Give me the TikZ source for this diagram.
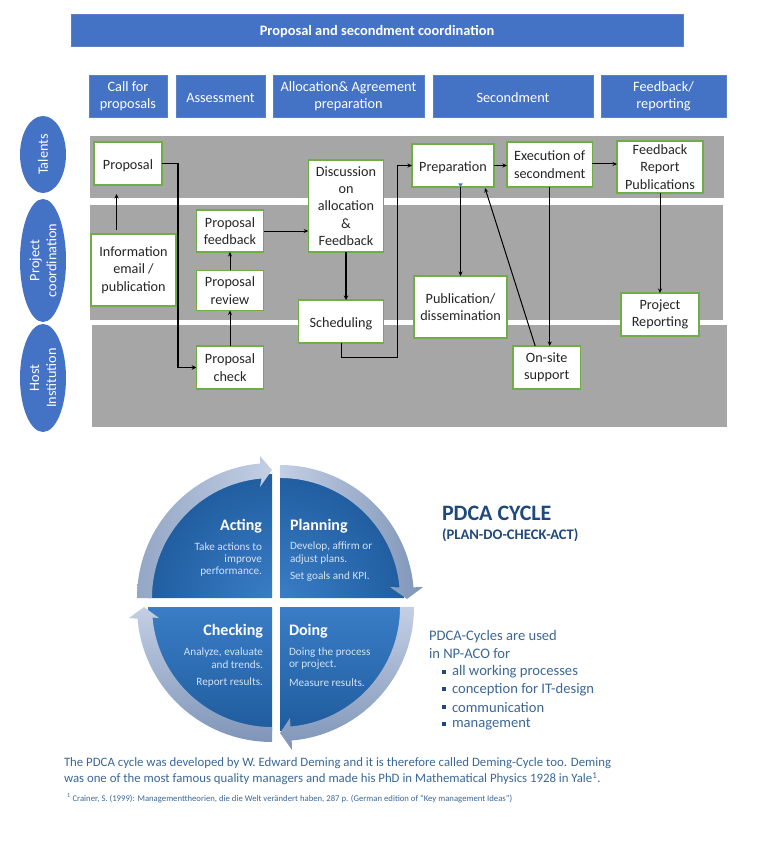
\documentclass[tikz,border=0pt]{standalone}
\usepackage{fontspec}
\setmainfont{Carlito}
\usetikzlibrary{shapes.geometric,calc,arrows.meta}
\definecolor{hdr}{HTML}{4472C4}
\definecolor{hdredge}{HTML}{5B82C8}
\definecolor{band}{HTML}{A6A6A6}
\definecolor{grn}{HTML}{70AD47}
\definecolor{txt}{HTML}{262626}
\definecolor{pdcatitle}{HTML}{1F497D}
\definecolor{pdcatext}{HTML}{3B6796}
\definecolor{quadtext}{HTML}{D3E2F3}
\definecolor{quadlight}{HTML}{3A7DC6}
\definecolor{quaddark}{HTML}{1F5C9E}
\definecolor{ringlight}{HTML}{C3CFE4}
\definecolor{ringdark}{HTML}{7F95B8}
\tikzset{
  x=1pt,y=-1pt,
  every node/.style={inner sep=0pt,outer sep=0pt},
  hbox/.style={draw=hdredge,line width=.6pt,fill=hdr,text=white,align=center,
    execute at begin node={\rule{0pt}{12.5pt}},
    font=\fontsize{14.3}{17}\selectfont},
  lane/.style={fill=band},
  box/.style={draw=grn,line width=1.1pt,fill=white,text=txt,align=center,
    execute at begin node={\rule{0pt}{14pt}},
    font=\fontsize{14.2}{17.3}\selectfont},
  role/.style={ellipse,fill=hdr,text=white,rotate=90,align=center,minimum height=46pt,
    font=\fontsize{14.3}{17}\selectfont},
  link/.style={draw=black,line width=.8pt,-{Stealth[length=4.5pt,width=4pt]}},
  heavy/.style={draw=black,line width=1.5pt,-{Stealth[length=4.5pt,width=4.5pt]}},
  quadhead/.style={text=white,font=\fontsize{16}{18}\bfseries\selectfont},
  quadbody/.style={text=quadtext,font=\fontsize{11.2}{12.6}\selectfont},
  pdca/.style={text=pdcatext,anchor=west,font=\fontsize{14.6}{16}\selectfont},
  para/.style={text=pdcatext,anchor=west,font=\fontsize{12.8}{15}\selectfont},
}
\begin{document}
\begin{tikzpicture}
\useasboundingbox (0,0) rectangle (768,866);
% lanes
\fill[lane] (90,136) rectangle (724,198);
\fill[lane] (90,205) rectangle (723,320);
\fill[lane] (92,325) rectangle (727,427);
% headers
\node[hbox,minimum width=612pt,minimum height=32pt,font=\fontsize{14.4}{17}\bfseries\selectfont] (title) at (377,30) {Proposal and secondment coordination};
\node[hbox,minimum width=78pt,minimum height=42pt] (h1) at (128,96) {Call for\\proposals};
\node[hbox,minimum width=89pt,minimum height=42pt] (h2) at (220.5,96) {Assessment};
\node[hbox,minimum width=151pt,minimum height=42pt] (h3) at (348.5,96) {Allocation\& Agreement\\preparation};
\node[hbox,minimum width=160pt,minimum height=42pt] (h4) at (513,96) {Secondment};
\node[hbox,minimum width=125pt,minimum height=42pt] (h5) at (663.5,96) {Feedback/\\reporting};
% roles
\node[role,minimum width=77pt] (r1) at (43,154.5) {Talents};
\node[role,minimum width=123pt] (r2) at (43,260.5) {Project\\coordination};
\node[role,minimum width=108pt] (r3) at (43,378) {Host\\Institution};
% process boxes
\node[box,minimum width=68pt,minimum height=43pt] (prop) at (128,163.5) {Proposal};
\node[box,minimum width=85pt,minimum height=72pt] (info) at (133.5,270) {Information\\email /\\publication};
\node[box,minimum width=67.5pt,minimum height=42pt] (fb) at (230,231) {Proposal\\feedback};
\node[box,minimum width=67.5pt,minimum height=40pt] (rev) at (230,290.5) {Proposal\\review};
\node[box,minimum width=67.5pt,minimum height=43pt] (chk) at (230,367.5) {Proposal\\check};
\node[box,minimum width=75.5pt,minimum height=92pt] (disc) at (346,206) {Discussion\\on\\allocation\\\&\\Feedback};
\node[box,minimum width=85.5pt,minimum height=43pt] (sch) at (341,321.5) {Scheduling};
\node[box,minimum width=82pt,minimum height=43pt] (prep) at (453,165.5) {Preparation};
\node[box,minimum width=85.5pt,minimum height=45pt] (exec) at (549.7,164.5) {Execution of\\secondment};
\node[box,minimum width=86pt,minimum height=52pt] (rep) at (660,167) {Feedback\\Report\\Publications};
\node[box,minimum width=93pt,minimum height=62pt] (pub) at (460.5,307) {Publication/\\dissemination};
\node[box,minimum width=67.5pt,minimum height=43pt] (site) at (546.7,367.5) {On-site\\support};
\node[box,minimum width=78pt,minimum height=43pt] (prj) at (660,314.5) {Project\\Reporting};
% connectors
\coordinate (infoTop) at ($(prop.south)+(-11.5,45)$);
\coordinate (propGap) at ($(prop.south)+(-11.5,9)$);
\coordinate (turn) at (397.4,357.4);
\draw[link] (infoTop) -- (propGap);
\draw[heavy] (prop.east) -- ++(16,0) |- (chk.west);
\draw[link,line width=1pt] (chk.north) -- (rev.south);
\draw[link,line width=1pt] (rev.north) -- (fb.south);
\draw[link] (fb.east) -- (fb.east -| disc.west);
\draw[heavy] (disc.south) -- (disc.south |- sch.north);
\draw[link] (sch.south) |- (turn) |- (prep.west);
\draw[link] (prep.east) -- (prep.east -| exec.west);
\draw[link,line width=1pt] ($(rep.west -| exec.east)+(0,-3)$) -- ($(rep.west)+(0,-3)$);
\draw[link] (pub.north |- prep.south) -- (pub.north);
\draw[link,line width=1pt] (exec.south) -- (exec.south |- site.north);
\draw[link,line width=1pt] ($(site.north)+(-11.5,0)$) -- ($(prep.south east)+(-9,1)$);
\draw[link,line width=1pt] (rep.south) -- (prj.north);
\fill[hdr] ($(pub.north |- prep.south)+(-2.2,-3.5)$) -- ++(4.4,0) -- ++(-2.2,3.5) -- cycle;
% PDCA quadrants
\begin{scope}[shift={(280,598)},y=1pt]
  \begin{scope}
    \clip (0,0) -- (0,124) arc (90:0:124) -- cycle;
    \shade[inner color=quadlight,outer color=quaddark] (0,0) circle (130);
  \end{scope}
  \shade[shading angle=-45,left color=ringlight,right color=ringdark] (0,133) arc (90:5:134) -- (143,11) -- (127,-1) -- (110,11) -- (119.5,10.5) arc (5:90:120) -- cycle;
\end{scope}
\begin{scope}[shift={(272,598)},y=1pt]
  \begin{scope}
    \clip (0,0) -- (-124,0) arc (180:90:124) -- cycle;
    \shade[inner color=quadlight,outer color=quaddark] (0,0) circle (130);
  \end{scope}
  \shade[left color=ringdark!70!ringlight,right color=ringlight] (-135,0) arc (180:95:135) -- (-12,142) -- (0,128) -- (-12,111) -- (-10.5,119.5) arc (95:180:120) -- cycle;
\end{scope}
\begin{scope}[shift={(272,607)},y=1pt]
  \shade[top color=quadlight,bottom color=quaddark] (0,0) -- (-124,0) arc (180:270:124) -- cycle;
  \shade[top color=ringlight,bottom color=ringdark] (0,-135) arc (270:185:135) -- (-143,-11) -- (-128,0) -- (-113,-11) -- (-119.5,-10.5) arc (185:270:120) -- cycle;
\end{scope}
\begin{scope}[shift={(280,607)},y=1pt]
  \shade[top color=quadlight,bottom color=quaddark] (0,0) -- (124,0) arc (0:-90:124) -- cycle;
  \shade[top color=ringlight,bottom color=ringdark] (134,0) arc (0:-85:134) -- (12,-143) -- (0,-126) -- (10,-111) -- (10.5,-119.5) arc (-85:0:120) -- cycle;
\end{scope}
% quadrant text
\node[quadhead,anchor=west] (qp) at (290,526) {Planning};
\node[quadbody,anchor=west] (qp1) at (290,547) {Develop, affirm or};
\node[quadbody,anchor=west] (qp2) at (290,560) {adjust plans.};
\node[quadbody,anchor=west] (qp3) at (290,577) {Set goals and KPI.};
\node[quadhead,anchor=east] (qa) at (262,526) {Acting};
\node[quadbody,anchor=east] (qa1) at (262,547) {Take actions to};
\node[quadbody,anchor=east] (qa2) at (262,560) {improve};
\node[quadbody,anchor=east] (qa3) at (262,572) {performance.};
\node[quadhead,anchor=east] (qc) at (263,631) {Checking};
\node[quadbody,anchor=east] (qc1) at (263,653) {Analyze, evaluate};
\node[quadbody,anchor=east] (qc2) at (263,665) {and trends.};
\node[quadbody,anchor=east] (qc3) at (263,683) {Report results.};
\node[quadhead,anchor=west] (qd) at (289,631) {Doing};
\node[quadbody,anchor=west] (qd1) at (289,653) {Doing the process};
\node[quadbody,anchor=west] (qd2) at (289,665) {or project.};
\node[quadbody,anchor=west] (qd3) at (289,683) {Measure results.};
% right text
\node[anchor=west,text=pdcatitle,font=\fontsize{22}{24}\bfseries\selectfont] (t1) at (442,513) {PDCA CYCLE};
\node[anchor=west,text=pdcatitle,font=\fontsize{14.6}{16}\bfseries\selectfont] (t2) at (442,535.5) {(PLAN-DO-CHECK-ACT)};
\node[pdca] (l1) at (429,637) {PDCA-Cycles are used};
\node[pdca] (l2) at (429,654) {in NP-ACO for};
\node[pdca] (b1) at (452,672) {all working processes};
\node[pdca] (b2) at (452,689.5) {conception for IT-design};
\node[pdca] (b3) at (452,707) {communication};
\node[pdca] (b4) at (452,724) {management};
\foreach \n in {b1,b2,b3,b4}{\fill[pdcatitle] ($(\n.west)+(-10,-2.5)$) rectangle ++(4,4);}
% bottom text
\node[para] (p1) at (64,763.5) {The PDCA cycle was developed by W. Edward Deming and it is therefore called Deming-Cycle too. Deming};
\node[para] (p2) at (64,779) {was one of the most famous quality managers and made his PhD in Mathematical Physics 1928 in Yale\textsuperscript{1}.};
\node[anchor=west,text=pdcatext,font=\fontsize{8.7}{10}\selectfont] (fn) at (67,798) {\textsuperscript{1} Crainer, S. (1999): Managementtheorien, die die Welt verändert haben, 287 p. (German edition of “Key management Ideas”)};
\end{tikzpicture}
\end{document}
